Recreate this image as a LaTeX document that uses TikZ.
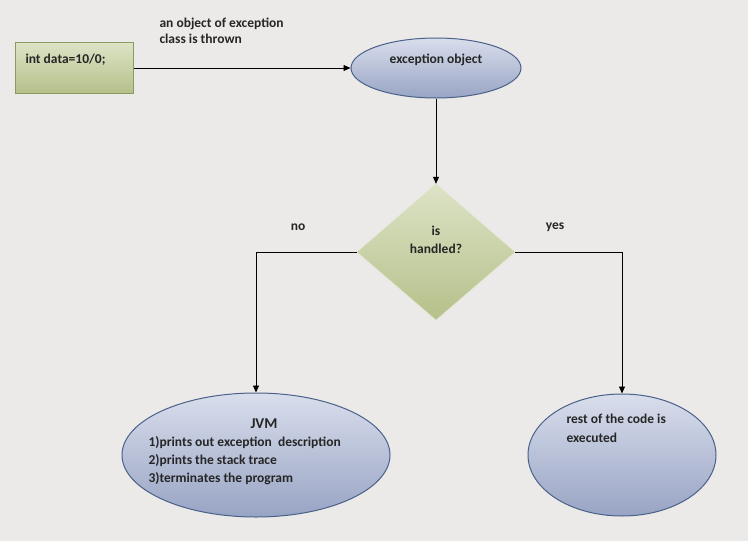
\documentclass[tikz,border=0pt]{standalone}
\usepackage{fontspec}
\setmainfont{Carlito}
\usetikzlibrary{shapes.geometric,arrows.meta}
\definecolor{bgc}{HTML}{EBEAE8}
\definecolor{gtop}{HTML}{DDE3C6}
\definecolor{gbot}{HTML}{B5C08A}
\definecolor{gbrd}{HTML}{8C9A60}
\definecolor{btop}{HTML}{D9DEEC}
\definecolor{bbot}{HTML}{98A4C4}
\definecolor{bbrd}{HTML}{4A6189}
\begin{document}
\begin{tikzpicture}[x=1pt,y=-1pt,
  txt/.style={font=\bfseries\fontsize{13.5}{16}\selectfont, text=black!85},
  ell/.style={draw=bbrd, line width=1pt, top color=btop, bottom color=bbot},
  arr/.style={-{Triangle[length=7pt,width=6pt]}, line width=0.8pt}]
\fill[bgc] (0,0) rectangle (748,541);
\useasboundingbox (0,0) rectangle (748,541);
\node[draw=gbrd, line width=1pt, top color=gtop, bottom color=gbot, minimum width=118pt, minimum height=51pt, anchor=north west] (r) at (15,42) {};
\node[txt, anchor=west] (rt) at (22,60) {int data=10/0;};
\node[ell, ellipse, minimum width=170pt, minimum height=60pt] (e) at (436,68) {};
\node[txt] (et) at (436,60) {exception object};
\node[txt, align=left, anchor=north west] (lbl) at (156,14) {an object of exception\\class is thrown};
\node[diamond, draw=gtop, top color=gtop, bottom color=gbot, minimum width=158pt, minimum height=136pt, inner sep=0pt, aspect=1.16] (d) at (436,252) {};
\node[txt, align=center] (dt) at (436,240) {is\\[2pt]handled?};
\node[ell, ellipse, minimum width=268pt, minimum height=124pt] (j) at (256,455) {};
\node[txt, align=left, anchor=north west] (jt) at (145,415) {\hspace*{102pt}\fontsize{15}{16}\selectfont JVM\\[2pt]1)prints out exception~ description\\[2pt]2)prints the stack trace\\[2pt]3)terminates the program};
\node[ell, ellipse, minimum width=188pt, minimum height=122pt] (k) at (622,455) {};
\node[txt, align=left, anchor=north west] (kt) at (563,410) {rest of the code is\\[3pt]executed};
\node[txt] (no) at (298,227) {no};
\node[txt] (yes) at (555,227) {yes};
\draw[arr] (r.east) -- (e.west);
\draw[arr] (e.south) -- (d.north);
\draw[arr] (d.west) -| (j.north);
\draw[arr] (d.east) -| (k.north);
\end{tikzpicture}
\end{document}
